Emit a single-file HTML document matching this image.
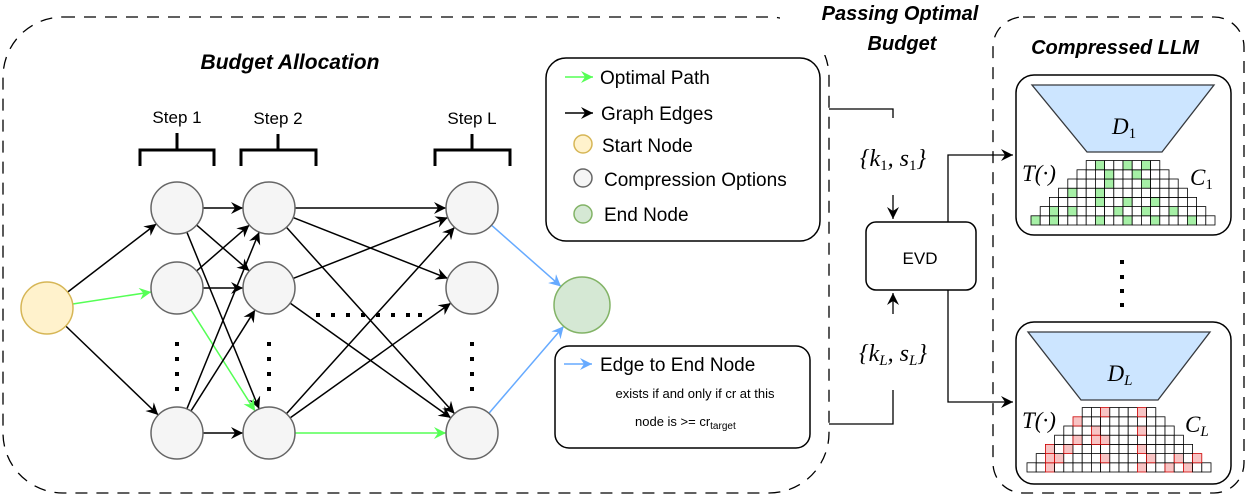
<!DOCTYPE html>
<html><head><meta charset="utf-8"><style>
html,body{margin:0;padding:0;background:#fff;}
svg{display:block;}
.t{font-family:"Liberation Sans",sans-serif;}
.ti{font-family:"Liberation Sans",sans-serif;font-weight:bold;font-style:italic;}
.m{font-family:"Liberation Serif",serif;font-style:italic;}
</style></head><body>
<svg id="s" width="1248" height="499" viewBox="0 0 1248 499" xmlns="http://www.w3.org/2000/svg">
<defs>
<marker id="ak" markerWidth="13" markerHeight="13" refX="12" refY="6" orient="auto" markerUnits="userSpaceOnUse"><path d="M0,0 L12,6 L0,12 L4,6z" fill="#000"/></marker>
<marker id="ag" markerWidth="13" markerHeight="13" refX="12" refY="6" orient="auto" markerUnits="userSpaceOnUse"><path d="M0,0 L12,6 L0,12 L4,6z" fill="#5f5"/></marker>
<marker id="ab" markerWidth="13" markerHeight="13" refX="12" refY="6" orient="auto" markerUnits="userSpaceOnUse"><path d="M0,0 L12,6 L0,12 L4,6z" fill="#6af"/></marker>
</defs>
<rect x="3" y="17" width="826" height="476" rx="60" fill="none" stroke="#000" stroke-width="1.3" stroke-dasharray="12,9"/>
<rect x="993" y="17" width="251" height="476" rx="30" fill="none" stroke="#000" stroke-width="1.3" stroke-dasharray="12,9"/>
<rect x="780" y="0" width="180" height="55" fill="#fff"/>
<text class="ti" x="290" y="69" font-size="21" text-anchor="middle">Budget Allocation</text>
<text class="ti" x="900" y="20" font-size="20" text-anchor="middle">Passing Optimal</text>
<text class="ti" x="902" y="50" font-size="20" text-anchor="middle">Budget</text>
<text class="ti" x="1115" y="54" font-size="20" text-anchor="middle">Compressed LLM</text>
<g class="t" font-size="17" text-anchor="middle">
<text x="177" y="123">Step 1</text><text x="278" y="124">Step 2</text><text x="472" y="124">Step L</text></g>
<g fill="none" stroke="#000" stroke-width="3">
<path d="M140,166 V150 H214 V166 M177,150 V133"/>
<path d="M241,166 V150 H316 V166 M278,150 V134"/>
<path d="M435,166 V150 H510 V166 M472,150 V134"/>
</g>
<g id="edges"></g>
<g id="nodes"></g>
<g fill="#000">
<rect x="175" y="342" width="4" height="4"/><rect x="175" y="357" width="4" height="4"/><rect x="175" y="372" width="4" height="4"/><rect x="175" y="387" width="4" height="4"/>
<rect x="267" y="342" width="4" height="4"/><rect x="267" y="357" width="4" height="4"/><rect x="267" y="372" width="4" height="4"/><rect x="267" y="387" width="4" height="4"/>
<rect x="470" y="342" width="4" height="4"/><rect x="470" y="357" width="4" height="4"/><rect x="470" y="372" width="4" height="4"/><rect x="470" y="387" width="4" height="4"/>
<rect x="316" y="313" width="4" height="4"/><rect x="331" y="313" width="4" height="4"/><rect x="346" y="313" width="4" height="4"/><rect x="361" y="313" width="4" height="4"/><rect x="376" y="313" width="4" height="4"/><rect x="391" y="313" width="4" height="4"/><rect x="406" y="313" width="4" height="4"/><rect x="418" y="313" width="4" height="4"/>
<rect x="1120" y="260" width="4" height="4"/><rect x="1120" y="275" width="4" height="4"/><rect x="1120" y="289" width="4" height="4"/><rect x="1120" y="303" width="4" height="4"/>
</g>
<rect x="546" y="58" width="274" height="183" rx="20" fill="#fff" stroke="#000" stroke-width="1.5"/>
<line x1="565" y1="77" x2="593" y2="77" stroke="#5f5" stroke-width="1.5" marker-end="url(#ag)"/>
<line x1="565" y1="113" x2="593" y2="113" stroke="#000" stroke-width="1.5" marker-end="url(#ak)"/>
<circle cx="583" cy="144" r="9" fill="#fff2cc" stroke="#d6b656" stroke-width="1.5"/>
<circle cx="583" cy="178" r="9" fill="#f5f5f5" stroke="#666" stroke-width="1.5"/>
<circle cx="583" cy="214" r="9" fill="#d5e8d4" stroke="#82b366" stroke-width="1.5"/>
<g class="t" font-size="19">
<text x="600" y="84">Optimal Path</text><text x="601" y="120">Graph Edges</text>
<text x="602" y="152">Start Node</text><text x="604" y="186">Compression Options</text><text x="604" y="221">End Node</text>
</g>
<rect x="555" y="346" width="255" height="102" rx="14" fill="#fff" stroke="#000" stroke-width="1.5"/>
<line x1="564" y1="364" x2="592" y2="364" stroke="#6af" stroke-width="1.5" marker-end="url(#ab)"/>
<text class="t" x="600" y="371" font-size="19">Edge to End Node</text>
<text class="t" x="695" y="398" font-size="13" text-anchor="middle">exists if and only if cr at this</text>
<text class="t" x="635" y="426" font-size="13">node is &gt;= cr<tspan font-size="10" dy="3">target</tspan></text>
<g fill="none" stroke="#000" stroke-width="1.3">
<path d="M829,109 H893 V118"/>
<line x1="893" y1="195" x2="893" y2="219" marker-end="url(#ak)"/>
<line x1="893" y1="314" x2="893" y2="293" marker-end="url(#ak)"/>
<path d="M893,390 V424 H829"/>
<path d="M948,222 V155 H1013" marker-end="url(#ak)"/>
<path d="M948,290 V402 H1013" marker-end="url(#ak)"/>
</g>
<rect x="866" y="222" width="110" height="68" rx="10" fill="#fff" stroke="#000" stroke-width="1.5"/>
<text class="t" x="920" y="264" font-size="17" text-anchor="middle">EVD</text>
<text class="m" x="893" y="166" font-size="24" text-anchor="middle">{k<tspan font-size="15" dy="4" font-style="normal">1</tspan><tspan dy="-4">, s</tspan><tspan font-size="15" dy="4" font-style="normal">1</tspan><tspan dy="-4">}</tspan></text>
<text class="m" x="893" y="361" font-size="24" text-anchor="middle">{k<tspan font-size="15" dy="4">L</tspan><tspan dy="-4">, s</tspan><tspan font-size="15" dy="4">L</tspan><tspan dy="-4">}</tspan></text>
<rect x="1016" y="75" width="215" height="160" rx="18" fill="#fff" stroke="#000" stroke-width="1.5"/>
<path d="M1032,85 H1214 L1162,152 H1087 Z" fill="#cce5ff" stroke="#36393d" stroke-width="1.3"/>
<text class="m" x="1124" y="134" font-size="23" text-anchor="middle">D<tspan font-size="15" dy="4" font-style="normal">1</tspan></text>
<text class="m" x="1022" y="181" font-size="23">T(·)</text>
<text class="m" x="1190" y="185" font-size="23">C<tspan font-size="15" dy="4" font-style="normal">1</tspan></text>
<rect x="1016" y="322" width="215" height="162" rx="18" fill="#fff" stroke="#000" stroke-width="1.5"/>
<path d="M1028,332 H1210 L1158,400 H1081 Z" fill="#cce5ff" stroke="#36393d" stroke-width="1.3"/>
<text class="m" x="1120" y="381" font-size="23" text-anchor="middle">D<tspan font-size="15" dy="4">L</tspan></text>
<text class="m" x="1022" y="428" font-size="23">T(·)</text>
<text class="m" x="1185" y="432" font-size="23">C<tspan font-size="15" dy="4">L</tspan></text>
<g id="grids"></g>
</svg>
<script>
var NS="http://www.w3.org/2000/svg";
function el(p,t,a){var e=document.createElementNS(NS,t);for(var k in a)e.setAttribute(k,a[k]);p.appendChild(e);return e;}
var N={S:[47,308],A1:[177,208],A2:[177,288],A3:[177,433],B1:[269,208],B2:[269,288],B3:[269,433],C1:[472,208],C2:[472,288],C3:[472,433],E:[582,305]};
var R=26;
var E=[["S","A1","k"],["S","A3","k"],["S","A2","g"],["A1","B1","k"],["A1","B2","k"],["A1","B3","k"],["A2","B1","k"],["A2","B2","k"],["A2","B3","g"],["A3","B1","k"],["A3","B2","k"],["A3","B3","k"],["B1","C1","k"],["B1","C2","k"],["B1","C3","k"],["B2","C1","k"],["B2","C3","k"],["B3","C1","k"],["B3","C2","k"],["B3","C3","g"],["C1","E","b"],["C3","E","b"]];
var col={k:"#000",g:"#5f5",b:"#6af"};
var eg=document.getElementById("edges");
E.forEach(function(e){var a=N[e[0]],b=N[e[1]];var dx=b[0]-a[0],dy=b[1]-a[1],L=Math.hypot(dx,dy);var ux=dx/L,uy=dy/L;var rb=e[1]=="E"?28:R;
el(eg,"line",{x1:a[0]+ux*R,y1:a[1]+uy*R,x2:b[0]-ux*rb,y2:b[1]-uy*rb,stroke:col[e[2]],"stroke-width":1.5,"marker-end":"url(#a"+e[2]+")"});});
var ng=document.getElementById("nodes");
for(var k in N){var p=N[k];var f="#f5f5f5",s="#666",r=R;if(k=="S"){f="#fff2cc";s="#d6b656";}if(k=="E"){f="#d5e8d4";s="#82b366";r=28;}
el(ng,"circle",{cx:p[0],cy:p[1],r:r,fill:f,stroke:s,"stroke-width":1.5});}
var gg=document.getElementById("grids");
function grid(x0,yb,fc,sc,pts){var w=9.2;for(var r=0;r<7;r++){var n=20-2*r;for(var i=0;i<n;i++){var x=x0+(r+i)*w,y=yb-(r+1)*w;var hit=pts.indexOf(r*100+i)>=0;
el(gg,"rect",{x:x,y:y,width:w,height:w,fill:hit?fc:"#fff",stroke:hit?sc:"#000","stroke-width":0.8});}}}
grid(1031,225,"#a6f0a6","#000",[0,2,7,10,13,17,101,103,108,111,114,205,208,211,301,304,404,408,503,506,601,604,606]);
grid(1027,472,"#f8c4c4","#c00",[2,12,15,17,101,102,107,112,115,117,200,202,210,302,304,305,315,403,408,500,606,602]);
</script>
</body></html>
